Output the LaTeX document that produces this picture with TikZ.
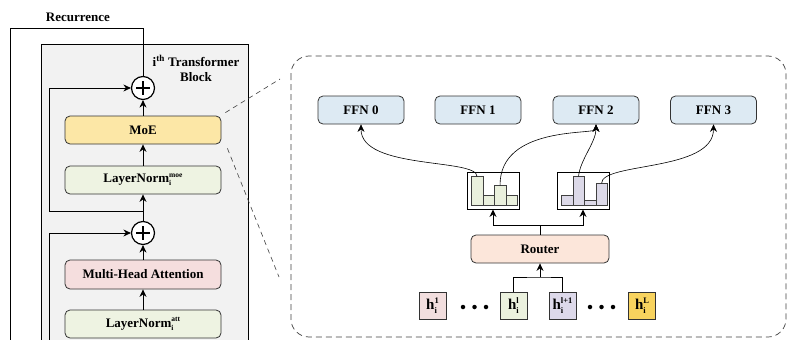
\documentclass[tikz,border=0pt]{standalone}
\usepackage{fontspec}
\setmainfont{Liberation Serif}
\usetikzlibrary{arrows.meta,calc}
\newcommand\ssc[2]{\rlap{\raisebox{-3.2pt}{\fontsize{7.5}{7.5}\selectfont\bfseries #2}}\raisebox{5.2pt}{\fontsize{7.5}{7.5}\selectfont\bfseries #1}}
\newcommand\tsc[2]{\rlap{\raisebox{-3.6pt}{\fontsize{8.5}{8.5}\selectfont\bfseries #2}}\raisebox{6pt}{\fontsize{8.5}{8.5}\selectfont\bfseries #1}}
\definecolor{blockgray}{HTML}{F2F2F2}
\definecolor{moefill}{HTML}{FCE7A6}
\definecolor{lnfill}{HTML}{EEF3E2}
\definecolor{mhafill}{HTML}{F5DEDE}
\definecolor{ffnfill}{HTML}{DDEAF3}
\definecolor{routerfill}{HTML}{FCE6DA}
\definecolor{greenbar}{HTML}{EAF0DD}
\definecolor{purplebar}{HTML}{DCD9E8}
\definecolor{tokpink}{HTML}{F2DEDE}
\definecolor{tokgreen}{HTML}{EBF1DE}
\definecolor{tokpurple}{HTML}{DDD9EA}
\definecolor{tokyellow}{HTML}{F8D35E}
\begin{document}
\begin{tikzpicture}[x=1pt,y=-1pt,
  lbl/.style={font=\fontsize{13}{15}\selectfont\bfseries},
  box/.style={draw=black!80, line width=0.8pt, rounded corners=5pt, minimum width=156pt, minimum height=28pt, inner sep=0pt, lbl},
  ffnbox/.style={box, fill=ffnfill, minimum width=86pt},
  tok/.style={draw=black!80, line width=0.8pt, minimum width=27pt, minimum height=27pt, inner sep=0pt, font=\fontsize{15}{15}\selectfont\bfseries},
  hist/.style={draw=black, line width=0.9pt, minimum width=52pt, minimum height=37pt, inner sep=0pt},
  bar/.style={draw=black!75, line width=0.6pt, minimum width=11.5pt, inner sep=0pt, anchor=south west},
  plus/.style={draw=black, line width=1.2pt, fill=white, circle, minimum size=23pt, inner sep=0pt},
  arr/.style={-{Stealth[length=7.5pt,width=7pt]}, line width=0.9pt},
  carr/.style={-{Stealth[length=7.5pt,width=7pt]}, line width=0.6pt},
  ln/.style={line width=0.9pt},
  dashl/.style={dash pattern=on 5pt off 4pt, line width=0.6pt, draw=black!75},
  dot/.style={circle, fill=black, minimum size=4.5pt, inner sep=0pt},
]
\useasboundingbox (0,0) rectangle (801,340);
% gray transformer block
\fill[blockgray] (41,44) rectangle (248,340);
\draw[line width=0.9pt] (41,340) -- (41,44) -- (248,44) -- (248,340);
\node[lbl, align=center] (title) at (196,68.5) {i\textsuperscript{th} Transformer\\Block};
\node[lbl] (rec) at (78,17) {Recurrence};

% left column
\node[box, fill=moefill] (moe) at (143,130) {MoE};
\node[box, fill=lnfill] (lnmoe) at (143,180) {LayerNorm\ssc{moe}{i}};
\node[box, fill=mhafill, minimum height=29pt] (mha) at (143,274.5) {Multi-Head Attention};
\node[box, fill=lnfill] (lnatt) at (143,324) {LayerNorm\ssc{att}{i}};
\node[plus] (p1) at (143,88) {};
\node[plus] (p2) at (143,233) {};
\foreach \p in {p1,p2}{
  \draw[line width=2.6pt] ($(\p)+(-7,0)$) -- ($(\p)+(7,0)$);
  \draw[line width=2.6pt] ($(\p)+(0,-7)$) -- ($(\p)+(0,7)$);
}
% vertical flow
\draw[arr] (lnatt) -- (mha);
\draw[arr] (mha) -- (p2);
\draw[arr] (p2) -- (lnmoe);
\draw[arr] (lnmoe) -- (moe);
\draw[arr] (moe) -- (p1);
% residuals
\coordinate (r1) at (143,211);
\coordinate (l1a) at (49,211);
\coordinate (l2b) at (49,340);
\draw[arr] (r1) -- (l1a) |- (p1.west);
\draw[arr] (l2b) |- (p2.west);
% recurrence
\coordinate (rc1) at (10,340);
\draw[ln] (p1.north) |- (10,28) -- (rc1);

% dashed zoom box
\draw[dash pattern=on 6pt off 4pt, line width=0.7pt, draw=black!75, rounded corners=18pt] (291,56) rectangle (786,337);
\coordinate (dz1) at (280,79);
\coordinate (dz2) at (279,277);
\draw[dashl] ($(moe.north east)+(4,-3)$) -- (dz1);
\draw[dashl] ($(moe.south east)+(6,4)$) -- (dz2);

% FFNs
\node[ffnbox] (f0) at (361,110) {FFN 0};
\node[ffnbox] (f1) at (478,110) {FFN 1};
\node[ffnbox] (f2) at (596,110) {FFN 2};
\node[ffnbox] (f3) at (713.5,110) {FFN 3};

% histograms
\node[hist] (h1) at (493,190.5) {};
\node[hist] (h2) at (583,190.5) {};
\node[bar, fill=greenbar, minimum height=29pt] (b11) at (471,206) {};
\node[bar, fill=greenbar, minimum height=10pt] (b12) at (482.5,206) {};
\node[bar, fill=greenbar, minimum height=20pt] (b13) at (494,206) {};
\node[bar, fill=greenbar, minimum height=10pt] (b14) at (505.5,206) {};
\node[bar, fill=purplebar, minimum height=10pt] (b21) at (561,206) {};
\node[bar, fill=purplebar, minimum height=29pt] (b22) at (572.5,206) {};
\node[bar, fill=purplebar, minimum height=5pt] (b23) at (584,206) {};
\node[bar, fill=purplebar, minimum height=22pt] (b24) at (595.5,206) {};

% router
\node[box, fill=routerfill, minimum width=138pt] (router) at (540,249) {Router};
\coordinate (rj) at (540,225);
\draw[ln] (router.north) -- (rj);
\draw[arr] (rj) -| (h1.south);
\draw[arr] (rj) -| (h2.south);

% tokens
\node[tok, fill=tokpink] (t1) at (432.5,305.5) {h\tsc{1}{i}};
\node[tok, fill=tokgreen] (tl) at (513.5,305.5) {h\tsc{l}{i}};
\node[tok, fill=tokpurple] (tl1) at (562.5,305.5) {h\tsc{l+1}{i}};
\node[tok, fill=tokyellow] (tL) at (642,305.5) {h\tsc{L}{i}};
\foreach \x [count=\k] in {463,474.5,486,590,601.5,613}{
  \node[dot] (dt\k) at (\x,307) {};
}
\coordinate (tj) at (540,277);
\draw[ln] (tl.north) |- (tj) -| (tl1.north);
\draw[arr] (tj) -- (router.south);

% routing curves
\draw[carr] (b11.north) .. controls (477,158) and (361,170) .. (f0.south);
\draw[carr] (b13.north) .. controls (499.5,125) and (596,135) .. (f2.south);
\draw[carr] (b22.north) .. controls (580,160) and (596,142) .. (f2.south);
\draw[carr] (b24.north) .. controls (601.5,162) and (713.5,172) .. (f3.south);
\end{tikzpicture}
\end{document}
